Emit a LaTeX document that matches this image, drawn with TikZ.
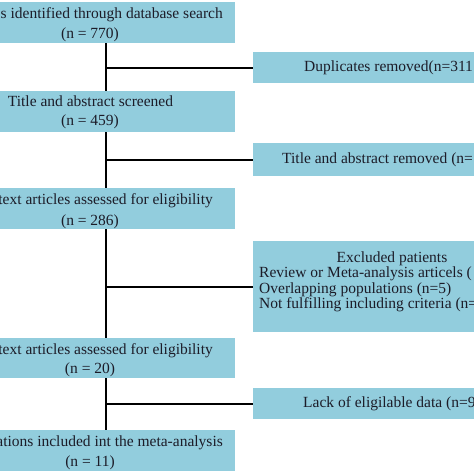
\documentclass[tikz,border=0pt]{standalone}
\usepackage{fontspec}
\setmainfont{Liberation Serif}
\definecolor{boxblue}{RGB}{146,205,221}
\definecolor{ink}{RGB}{28,28,40}
\begin{document}
\begin{tikzpicture}[x=1bp,y=-1bp,
  box/.style={fill=boxblue, draw=none, inner sep=0pt, minimum width=#1, anchor=north west},
  txt/.style={inner sep=0pt, text=ink, font=\fontsize{15.5bp}{18bp}\selectfont, text height=10.7bp, text depth=3.9bp},
  conn/.style={draw=black, line width=2.3bp}]
\useasboundingbox (0,0) rectangle (474,474);
\clip (0,0) rectangle (474,474);
\coordinate (tx) at (106,0);
% left boxes
\node[box=290bp, minimum height=41bp] (B1) at (-55,2) {};
\node[box=290bp, minimum height=41bp] (B2) at (-55,91) {};
\node[box=290bp, minimum height=41bp] (B3) at (-55,188) {};
\node[box=290bp, minimum height=40bp] (B4) at (-55,338) {};
\node[box=290bp, minimum height=41bp] (B5) at (-55,430) {};
% right boxes
\node[box=320bp, minimum height=31bp] (R1) at (253,52) {};
\node[box=320bp, minimum height=33bp] (R2) at (253,143) {};
\node[box=320bp, minimum height=91bp] (R3) at (253,241) {};
\node[box=320bp, minimum height=31bp] (R4) at (253,388) {};
% connectors
\draw[conn] (B1.south -| tx) -- (B2.north -| tx);
\draw[conn] (B2.south -| tx) -- (B3.north -| tx);
\draw[conn] (B3.south -| tx) -- (B4.north -| tx);
\draw[conn] (B4.south -| tx) -- (B5.north -| tx);
\draw[conn] (R1.west -| tx) -- (R1.west);
\draw[conn] (R2.west -| tx) -- (R2.west);
\draw[conn] (R3.west -| tx) -- (R3.west);
\draw[conn] (R4.west -| tx) -- (R4.west);
% left texts
\node[txt, anchor=east] (t1a) at (223,15) {s identified through database search};
\node[txt] (t1b) at (90,35) {(n = 770)};
\node[txt] (t2a) at (90.5,103) {Title and abstract screened};
\node[txt] (t2b) at (90,122) {(n = 459)};
\node[txt, anchor=east] (t3a) at (213,201) {text articles assessed for eligibility};
\node[txt] (t3b) at (90,222) {(n = 286)};
\node[txt, anchor=east] (t4a) at (213,351) {text articles assessed for eligibility};
\node[txt] (t4b) at (90,370) {(n = 20)};
\node[txt, anchor=east] (t5a) at (223,443) {ations included int the meta-analysis};
\node[txt] (t5b) at (90,463) {(n = 11)};
% right texts
\node[txt, anchor=west] (r1) at (304,68) {Duplicates removed(n=311};
\node[txt, anchor=west] (r2) at (282,160) {Title and abstract removed (n=};
\node[txt] (r3a) at (392,259) {Excluded patients};
\node[txt, anchor=west] (r3b) at (259,274.5) {Review or Meta-analysis articels (};
\node[txt, anchor=west] (r3c) at (259,290) {Overlapping populations (n=5)};
\node[txt, anchor=west] (r3d) at (259,305.5) {Not fulfilling including criteria (n=};
\node[txt, anchor=west] (r4) at (303,404) {Lack of eligilable data (n=9};
\end{tikzpicture}
\end{document}
